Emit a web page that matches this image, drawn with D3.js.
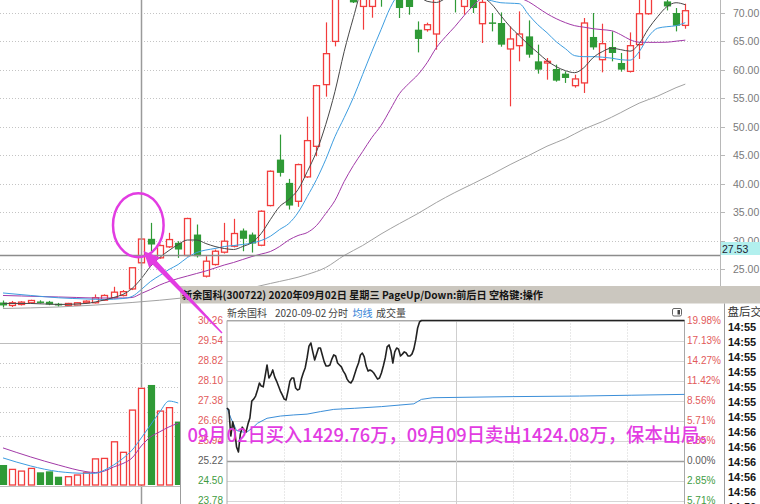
<!DOCTYPE html>
<html>
<head>
<meta charset="utf-8">
<script src="https://cdn.jsdelivr.net/npm/d3@7"></script>
<style>
  body { margin: 0; background: #fff; overflow: hidden; }
  svg { display: block; }
</style>
</head>
<body>
<svg id="chart" width="760" height="504"></svg>
<script>
    // Daily candles (prices above ~72.3 are cut off by the top edge)
    const opens  = [19.12,18.60,18.77,19.07,19.30,19.25,18.90,18.60,18.65,19.07,
                    19.07,19.53,19.95,20.35,21.50,26.09,30.30,26.96,28.89,29.60,
                    27.37,31.05,23.74,25.79,27.95,29.00,31.75,31.05,29.17,36.14,
                    44.21,40.12,36.89,41.17,46.54,57.37,64.96,76.00,76.00,71.10,
                    71.10,75.00,74.00,74.00,73.50,67.02,67.02,66.26,74.00,75.00,
                    71.10,73.50,68.07,68.30,68.19,63.63,64.21,65.84,61.46,61.17,
                    60.12,59.30,57.19,57.67,65.74,61.75,63.98,61.17,59.70,64.39,
                    69.82,75.00,71.98,69.95,67.77];
    const highs  = [19.47,19.39,19.35,19.60,19.50,19.40,19.05,19.05,19.15,19.50,
                    20.53,20.55,21.88,21.30,25.22,30.26,33.10,29.30,31.35,29.88,
                    34.00,32.81,27.25,28.42,33.10,33.81,32.11,31.40,35.30,42.30,
                    48.60,40.82,43.50,51.75,57.35,68.30,75.37,80.00,77.00,75.50,
                    75.00,76.00,77.00,75.00,74.50,68.47,68.25,74.50,76.00,76.00,
                    75.00,74.50,73.00,69.95,70.05,67.60,70.23,68.65,64.39,62.05,
                    60.88,59.70,59.12,69.07,69.95,68.07,66.72,62.93,66.54,72.50,
                    74.50,76.00,72.60,70.82,71.58];
    const lows   = [18.24,18.33,18.60,18.95,18.95,18.65,18.40,18.50,18.55,18.95,
                    18.95,19.40,19.85,20.20,21.30,25.53,28.12,26.80,28.70,26.96,
                    27.20,27.02,23.51,25.60,27.72,28.80,28.12,27.89,29.00,36.00,
                    41.23,35.44,35.91,41.00,44.79,55.26,64.09,73.00,71.70,67.02,
                    69.12,71.05,72.60,69.07,69.65,63.03,66.67,63.51,72.80,70.05,
                    69.65,69.95,64.68,66.72,64.03,53.56,61.46,62.10,59.30,58.24,
                    57.89,57.67,56.84,55.91,63.51,59.53,61.46,59.65,59.50,61.88,
                    69.65,72.50,70.40,66.72,67.19];
    const closes = [18.60,19.07,19.18,19.47,19.12,18.77,18.60,18.95,19.07,19.35,
                    19.95,20.35,20.93,21.02,25.22,30.26,29.30,29.12,30.17,28.42,
                    33.86,27.25,26.37,28.12,29.88,31.23,30.30,29.47,35.14,42.16,
                    41.88,36.14,43.33,47.54,57.19,62.81,75.37,78.00,71.81,74.50,
                    74.00,73.00,75.50,70.82,71.00,65.39,67.89,73.50,75.00,72.80,
                    74.00,70.82,71.81,68.07,64.39,65.39,66.26,62.63,60.00,61.46,
                    58.07,58.54,58.37,68.19,63.91,64.56,62.93,60.00,64.21,69.82,
                    73.50,73.50,71.10,67.72,70.35];

    // Moving averages as [day index, price]
    const ma5 = [[0,18.95],[3,18.95],[6,18.77],[9,18.95],[10,19.21],[11,19.56],[12,20.00],[13,20.53],
                 [14,21.58],[15,23.33],[16,25.44],[17,27.02],[18,28.25],[19,29.30],[20,30.09],[21,30.09],
                 [22,29.47],[23,28.95],[24,28.60],[25,28.42],[26,28.95],[27,29.65],[28,31.23],[29,33.68],
                 [30,35.96],[31,37.19],[32,38.95],[33,42.10],[34,45.61],[35,50.35],[36,56.14],[37,63.16],
                 [38,69.12],[39,74.5],[40,76.0],[41,76.5],[42,76.0],[43,75.5],[44,74.5],[45,73.2],
                 [46,72.0],[47,71.8],[48,72.5],[49,73.3],[50,73.8],[51,73.5],[52,72.8],[53,71.49],
                 [54,69.47],[55,67.54],[56,65.96],[57,64.39],[58,62.98],[59,61.58],[60,60.53],[61,59.82],
                 [62,59.47],[63,60.35],[64,62.11],[65,63.16],[66,63.77],[67,63.51],[68,63.25],[69,64.56],
                 [70,67.19],[71,69.30],[72,71.05],[73,71.75],[74,71.40]];
    const ma10 = [[0,20.79],[3,20.35],[6,19.95],[9,19.74],[11,19.65],[13,19.82],[14,20.18],[15,21.40],
                  [16,22.81],[17,23.86],[18,24.91],[19,25.79],[20,27.02],[21,27.89],[22,28.33],[23,28.60],
                  [24,28.95],[25,29.12],[26,29.30],[27,29.56],[28,30.00],[29,30.75],[30,31.93],[31,32.98],
                  [32,34.91],[33,37.72],[34,40.70],[35,44.21],[36,48.24],[37,51.58],[38,55.09],[39,59.12],
                  [40,63.16],[41,67.02],[42,70.88],[43,73.5],[44,74.5],[45,75.0],[46,75.0],[47,74.5],
                  [48,74.0],[49,73.5],[50,73.0],[51,72.8],[52,72.5],[53,72.10],[54,71.75],[55,71.67],
                  [56,71.58],[57,69.65],[58,67.89],[59,66.49],[60,64.91],[61,63.68],[62,62.46],[63,62.28],
                  [64,62.28],[65,62.19],[66,62.02],[67,61.75],[68,61.67],[69,63.16],[70,65.79],[71,67.28],
                  [72,67.54],[73,67.72],[74,68.25]];
    const ma20 = [[0,20.35],[2,20.26],[4,20.17],[6,20.09],[8,20.00],[10,19.91],[13,19.91],[14,20.00],
                  [15,20.70],[16,21.40],[17,22.19],[18,22.81],[19,23.33],[20,23.77],[21,24.21],[22,24.65],
                  [23,25.18],[24,25.70],[25,26.14],[26,26.67],[27,27.19],[28,27.63],[29,28.07],[30,28.95],
                  [31,30.09],[32,30.88],[33,31.40],[34,32.63],[35,34.74],[36,37.02],[37,40.35],[38,43.16],
                  [39,45.61],[40,48.07],[41,50.19],[42,52.98],[43,55.79],[44,57.54],[45,59.12],[46,61.23],
                  [47,63.86],[48,65.79],[49,67.54],[50,69.47],[51,71.23],[52,72.6],[53,73.0],[54,73.2],
                  [55,73.0],[56,72.6],[57,71.93],[58,70.88],[59,69.82],[60,68.95],[61,68.25],[62,67.72],
                  [63,67.46],[64,67.19],[65,67.02],[66,66.84],[67,66.14],[68,65.26],[69,64.82],[70,64.79],
                  [71,64.79],[72,64.82],[73,65.00],[74,65.18]];
    const ma60 = [[0,18.07],[6,18.33],[14,19.12],[20,20.00],[25,21.05],[29,22.46],[33,24.04],[35,25.26],
                  [37,27.37],[39,29.12],[41,31.14],[43,32.98],[45,34.74],[47,36.67],[49,38.42],[51,40.00],
                  [53,41.61],[55,43.33],[57,44.91],[59,46.56],[61,47.89],[63,49.56],[65,50.88],[67,52.46],
                  [69,54.12],[71,55.35],[73,56.84],[74,57.46]];

    const priceTicks = [25, 30, 35, 40, 45, 50, 55, 60, 65, 70];
    const crossIndex = 15;      // 2020-09-02
    const crossPrice = 27.53;

    // Volume of the first days (the rest sits under the popup), in grid units
    const volumes = [0.82,0.64,0.57,0.68,0.52,0.56,0.34,0.34,0.41,0.50,
                     1.07,1.09,1.77,1.34,3.07,3.96,4.10,3.03,3.17,2.60];
    const volMaA = [[0,1.11],[3,0.78],[6,0.55],[9,0.48],[10,0.48],[11,0.61],[12,0.82],[13,1.09],
                    [14,1.43],[15,1.93],[16,2.46],[17,2.99],[18,3.44],[19,3.36]];
    const volMaB = [[0,1.52],[3,1.15],[6,0.82],[9,0.55],[10,0.51],[11,0.57],[12,0.74],[13,0.88],
                    [14,1.11],[15,1.60],[16,1.97],[17,2.18],[18,2.38],[19,2.53]];
    const volGrid = [2, 3, 4, 5];

    // Intraday 2020-09-02 (one price per minute from 9:30 until limit-up)
    const prevClose = 25.22;
    const intraTicks = [30.26,29.54,28.82,28.10,27.38,26.66,25.94,25.22,24.50,23.78];
    const pctLabels = ["19.98%","17.13%","14.27%","11.42%","8.56%","5.71%","2.85%","0.00%","2.85%","5.71%"];
    const minutePrice = [27.11,27.04,26.10,26.61,26.32,25.71,25.53,26.17,26.42,26.32,
                         26.25,26.53,26.75,27.36,27.43,27.54,27.76,28.01,27.90,27.87,
                         28.26,28.66,28.19,28.30,28.48,28.23,28.08,27.90,27.72,27.58,
                         27.43,27.40,27.72,28.08,28.19,28.19,27.83,27.76,27.79,28.15,
                         28.37,28.55,28.91,29.34,29.45,29.13,28.84,29.05,29.27,29.27,
                         29.02,28.77,28.62,28.62,28.66,28.87,29.02,28.98,28.73,28.66,
                         28.59,28.44,28.33,28.15,28.05,28.01,28.12,28.33,28.55,28.73,
                         29.02,29.09,28.95,28.62,28.44,28.48,28.44,28.37,28.26,28.15,
                         28.19,28.37,28.62,28.91,29.31,29.38,29.16,28.73,29.13,29.27,
                         29.23,28.98,29.05,29.13,29.09,28.98,28.98,29.05,29.23,29.56,
                         29.99,30.21,30.26];
    const closeMinute = 240, closePrice = 30.26;   // stays at limit-up until the close
    const avgPrice = [[0,27.11],[2,26.75],[5,26.30],[10,26.22],[14,26.43],[16,26.56],[21,26.74],
                      [28,26.82],[35,26.86],[42,26.89],[49,26.98],[56,27.06],[67,27.10],[81,27.16],
                      [98,27.26],[102,27.42],[108,27.48],[150,27.52],[185,27.54],[212,27.57],[240,27.60]];
    const halfHours = [30, 60, 90, 120, 150, 180, 210];
    const tradeTimes = ["14:55","14:55","14:55","14:55","14:55","14:55","14:55",
                        "14:56","14:56","14:56","14:56","14:56","14:56"];

    const titleText = "新余国科(300722) 2020年09月02日 星期三 PageUp/Down:前后日 空格键:操作";
    const noteText = "09月02日买入1429.76万，09月09日卖出1424.08万，保本出局。";

    // ------------------------------------------------------------------
    const svg = d3.select("#chart");

    const RED = "#f23c3c", GREEN = "#2f9a36", MAGENTA = "#e23ce2";
    const numFont = "'Liberation Sans', Arial, sans-serif";
    const cjkFont = "'Noto Sans CJK SC', 'Liberation Sans', sans-serif";

    const x = d3.scaleLinear().domain([0, 74]).range([3, 685.3]);
    const y = d3.scaleLinear().domain([25, 70]).range([269, 12.7]);
    const yVol = d3.scaleLinear().domain([0, 5]).range([485, 363]);
    const crisp = v => Math.round(v) + 0.5;

    // main panel grid
    const main = svg.append("g");
    main.selectAll("line.grid")
        .data(priceTicks)
        .enter()
        .append("line")
        .attr("x1", 0).attr("x2", 720)
        .attr("y1", d => crisp(y(d))).attr("y2", d => crisp(y(d)))
        .attr("stroke", "#c4c4c4")
        .attr("stroke-dasharray", "1,2");

    // candles
    main.selectAll("g.candle")
        .data(d3.range(opens.length))
        .enter()
        .append("g")
        .each(function (i) {
            const g = d3.select(this);
            const cx = crisp(x(i));
            const up = closes[i] >= opens[i];
            const top = y(Math.max(opens[i], closes[i]));
            const bot = y(Math.min(opens[i], closes[i]));
            const col = up ? RED : GREEN;
            if (up) {
                g.append("line").attr("x1", cx).attr("x2", cx)
                    .attr("y1", y(highs[i])).attr("y2", top)
                    .attr("stroke", col).attr("stroke-width", 1.2);
                g.append("line").attr("x1", cx).attr("x2", cx)
                    .attr("y1", bot).attr("y2", y(lows[i]))
                    .attr("stroke", col).attr("stroke-width", 1.2);
                g.append("rect")
                    .attr("x", cx - 3).attr("y", top)
                    .attr("width", 6).attr("height", Math.max(1, bot - top))
                    .attr("fill", "#fff").attr("stroke", col).attr("stroke-width", 1.3);
            } else {
                g.append("line").attr("x1", cx).attr("x2", cx)
                    .attr("y1", y(highs[i])).attr("y2", y(lows[i]))
                    .attr("stroke", col).attr("stroke-width", 1.2);
                g.append("rect")
                    .attr("x", cx - 3.6).attr("y", top)
                    .attr("width", 7.2).attr("height", Math.max(1.5, bot - top))
                    .attr("fill", col);
            }
        });

    // moving averages
    const maLine = d3.line()
        .x(d => x(d[0]))
        .y(d => y(d[1]))
        .curve(d3.curveMonotoneX);

    [[ma60, "#a2a2a2"], [ma20, "#a23aa8"], [ma10, "#3d9de0"], [ma5, "#474747"]].forEach(([d, c]) => {
        main.append("path")
            .attr("d", maLine(d))
            .attr("fill", "none")
            .attr("stroke", c)
            .attr("stroke-width", 1);
    });

    // crosshair
    const crossX = crisp(x(crossIndex));
    const crossY = crisp(y(crossPrice));
    main.append("line")
        .attr("x1", 0).attr("x2", 720)
        .attr("y1", crossY).attr("y2", crossY)
        .attr("stroke", "#8c8c8c").attr("stroke-width", 1.5);
    main.append("line")
        .attr("x1", crossX).attr("x2", crossX)
        .attr("y1", 0).attr("y2", 504)
        .attr("stroke", "#9a9a9a").attr("stroke-width", 1.5);

    // right price axis
    main.append("line")
        .attr("x1", 720.5).attr("x2", 720.5).attr("y1", 0).attr("y2", 343)
        .attr("stroke", "#b8b8b8");
    main.selectAll("line.tick")
        .data(priceTicks)
        .enter()
        .append("line")
        .attr("x1", 720.5).attr("x2", 725)
        .attr("y1", d => crisp(y(d))).attr("y2", d => crisp(y(d)))
        .attr("stroke", "#b8b8b8");
    main.selectAll("text.price")
        .data(priceTicks)
        .enter()
        .append("text")
        .attr("x", 733)
        .attr("y", d => y(d) + 4)
        .attr("font-family", numFont)
        .attr("font-size", "10.5px")
        .attr("fill", "#7a7a7a")
        .text(d => d3.format(".2f")(d));

    // crosshair price tag
    main.append("rect")
        .attr("x", 721).attr("y", crossY - 13.5)
        .attr("width", 40).attr("height", 13)
        .attr("fill", "#b2f0ee");
    main.append("text")
        .attr("x", 722).attr("y", crossY - 3)
        .attr("font-family", numFont)
        .attr("font-size", "10.5px")
        .attr("fill", "#223")
        .text(d3.format(".2f")(crossPrice));

    // volume panel
    const vol = svg.append("g");
    vol.append("line").attr("x1", 0).attr("x2", 720).attr("y1", 343.5).attr("y2", 343.5).attr("stroke", "#bdbdbd");
    vol.append("line").attr("x1", 0).attr("x2", 720).attr("y1", 486.5).attr("y2", 486.5).attr("stroke", "#bdbdbd");
    vol.selectAll("line.vgrid")
        .data(volGrid)
        .enter()
        .append("line")
        .attr("x1", 0).attr("x2", 720)
        .attr("y1", d => crisp(yVol(d))).attr("y2", d => crisp(yVol(d)))
        .attr("stroke", "#c4c4c4")
        .attr("stroke-dasharray", "1,2");

    vol.selectAll("rect.vbar")
        .data(volumes)
        .enter()
        .append("rect")
        .each(function (v, i) {
            const up = closes[i] >= opens[i];
            const cx = crisp(x(i));
            const r = d3.select(this)
                .attr("y", yVol(v))
                .attr("height", yVol(0) - yVol(v));
            if (up) {
                r.attr("x", cx - 3).attr("width", 6)
                 .attr("fill", "#fff").attr("stroke", RED).attr("stroke-width", 1.3);
            } else {
                r.attr("x", cx - 3.6).attr("width", 7.2).attr("fill", GREEN);
            }
        });

    const volLine = d3.line()
        .x(d => x(d[0]))
        .y(d => yVol(d[1]))
        .curve(d3.curveMonotoneX);
    vol.append("path").attr("d", volLine(volMaB)).attr("fill", "none").attr("stroke", "#a23aa8");
    vol.append("path").attr("d", volLine(volMaA)).attr("fill", "none").attr("stroke", "#3d9de0");

    // ------------------------------------------------------------------
    // popup with the intraday chart
    const pop = svg.append("g");
    pop.append("rect").attr("x", 180).attr("y", 286).attr("width", 580).attr("height", 218).attr("fill", "#fff");
    pop.append("line").attr("x1", 180.5).attr("x2", 180.5).attr("y1", 286).attr("y2", 504).attr("stroke", "#9c9c9c");
    pop.append("rect").attr("x", 180).attr("y", 286).attr("width", 580).attr("height", 17.5).attr("fill", "#cbc7bf");
    pop.append("text")
        .attr("x", 182).attr("y", 299)
        .attr("font-family", cjkFont)
        .attr("font-size", "10.5px")
        .attr("font-weight", "bold")
        .attr("fill", "#141414")
        .attr("textLength", 361)
        .attr("lengthAdjust", "spacingAndGlyphs")
        .text(titleText);

    // second header row
    [["新余国科", 227, "#444"], ["2020-09-02", 275, "#444"], ["分时", 328, "#444"],
     ["均线", 352.5, "#2f7fd6"], ["成交量", 376, "#444"]].forEach(([t, px, c]) => {
        pop.append("text")
            .attr("x", px).attr("y", 316.5)
            .attr("font-family", cjkFont)
            .attr("font-size", "10px")
            .attr("fill", c)
            .text(t);
    });
    // small window icon
    pop.append("rect").attr("x", 672.5).attr("y", 308.5).attr("width", 9).attr("height", 7.5)
        .attr("rx", 1.5).attr("fill", "#fff").attr("stroke", "#666");
    pop.append("rect").attr("x", 677.5).attr("y", 310).attr("width", 2.5).attr("height", 4.5).attr("fill", "#444");

    const xm = d3.scaleLinear().domain([0, 240]).range([227, 684.5]);
    const yp = d3.scaleLinear().domain([23.78, 30.26]).range([500.5, 320.5]);
    const tickColor = v => v > prevClose ? "#e25a5a" : (v < prevClose ? "#3f9c3f" : "#5a5a5a");

    pop.selectAll("line.ig")
        .data(intraTicks)
        .enter()
        .append("line")
        .attr("x1", 227).attr("x2", 684.5)
        .attr("y1", d => crisp(yp(d))).attr("y2", d => crisp(yp(d)))
        .attr("stroke", d => d === prevClose ? "#9c9c9c" : "#d6d6d6")
        .attr("stroke-width", d => d === prevClose ? 1.6 : 1);
    pop.selectAll("line.iv")
        .data(halfHours)
        .enter()
        .append("line")
        .attr("x1", d => crisp(xm(d))).attr("x2", d => crisp(xm(d)))
        .attr("y1", 320.5).attr("y2", 504)
        .attr("stroke", d => d === 120 ? "#cfcfcf" : "#d2d2d2")
        .attr("stroke-dasharray", d => d === 120 ? null : "1,2");
    pop.append("line").attr("x1", 227).attr("x2", 227).attr("y1", 320.5).attr("y2", 504).attr("stroke", "#a8a8a8");
    pop.append("line").attr("x1", 684.5).attr("x2", 684.5).attr("y1", 320.5).attr("y2", 504).attr("stroke", "#a8a8a8");
    pop.append("line").attr("x1", 227).attr("x2", 684.5).attr("y1", 320.5).attr("y2", 320.5).attr("stroke", "#a8a8a8");

    pop.selectAll("text.il")
        .data(intraTicks)
        .enter()
        .append("text")
        .attr("x", 223).attr("y", d => yp(d) + 3.5)
        .attr("text-anchor", "end")
        .attr("font-family", numFont)
        .attr("font-size", "10px")
        .attr("fill", tickColor)
        .text(d => d3.format(".2f")(d));
    pop.selectAll("text.pl")
        .data(pctLabels)
        .enter()
        .append("text")
        .attr("x", 687).attr("y", (d, i) => yp(intraTicks[i]) + 3.5)
        .attr("font-family", numFont)
        .attr("font-size", "10px")
        .attr("fill", (d, i) => tickColor(intraTicks[i]))
        .text(d => d);

    const pricePts = minutePrice.map((v, i) => [i, v]).concat([[closeMinute, closePrice]]);
    const intraLine = d3.line().x(d => xm(d[0])).y(d => yp(d[1]));
    pop.append("path").attr("d", intraLine(avgPrice)).attr("fill", "none")
        .attr("stroke", "#3b8ed8").attr("stroke-width", 1);
    pop.append("path").attr("d", intraLine(pricePts)).attr("fill", "none")
        .attr("stroke", "#222").attr("stroke-width", 1.6).attr("stroke-linejoin", "round");

    // after-hours trade list on the right
    pop.append("line").attr("x1", 724.5).attr("x2", 724.5).attr("y1", 303.5).attr("y2", 504).attr("stroke", "#9c9c9c");
    pop.append("text")
        .attr("x", 727.5).attr("y", 316)
        .attr("font-family", cjkFont)
        .attr("font-size", "11.5px")
        .attr("fill", "#333")
        .text("盘后交");
    pop.selectAll("text.tt")
        .data(tradeTimes)
        .enter()
        .append("text")
        .attr("x", 728).attr("y", (d, i) => 331 + i * 15)
        .attr("font-family", numFont)
        .attr("font-size", "11px")
        .attr("font-weight", "bold")
        .attr("fill", "#151515")
        .text(d => d);

    // ------------------------------------------------------------------
    // annotation: circle, arrow and note
    const note = svg.append("g");
    note.append("ellipse")
        .attr("cx", x(crossIndex) - 3).attr("cy", y(32.7))
        .attr("rx", 25.3).attr("ry", 32)
        .attr("fill", "none").attr("stroke", MAGENTA).attr("stroke-width", 2.5);

    const tip = [x(crossIndex) + 2.2, y(crossPrice) - 3.5];
    const tail = [222, 333];
    const len = Math.hypot(tip[0] - tail[0], tip[1] - tail[1]);
    const u = [(tip[0] - tail[0]) / len, (tip[1] - tail[1]) / len];
    const n = [-u[1], u[0]];
    const base = [tip[0] - 16 * u[0], tip[1] - 16 * u[1]];
    const at = (p, w) => [p[0] + w * n[0], p[1] + w * n[1]];
    note.append("polygon")
        .attr("points", [at(tail, 0.7), at(base, 2.8), at(base, 7.5), tip,
                         at(base, -7.5), at(base, -2.8), at(tail, -0.7)].map(p => p.join(",")).join(" "))
        .attr("fill", MAGENTA);

    note.append("text")
        .attr("x", 187.5).attr("y", 442)
        .attr("font-family", cjkFont)
        .attr("font-size", "19px")
        .attr("font-weight", 500)
        .attr("fill", MAGENTA)
        .attr("textLength", 530)
        .attr("lengthAdjust", "spacingAndGlyphs")
        .text(noteText);
</script>
</body>
</html>
